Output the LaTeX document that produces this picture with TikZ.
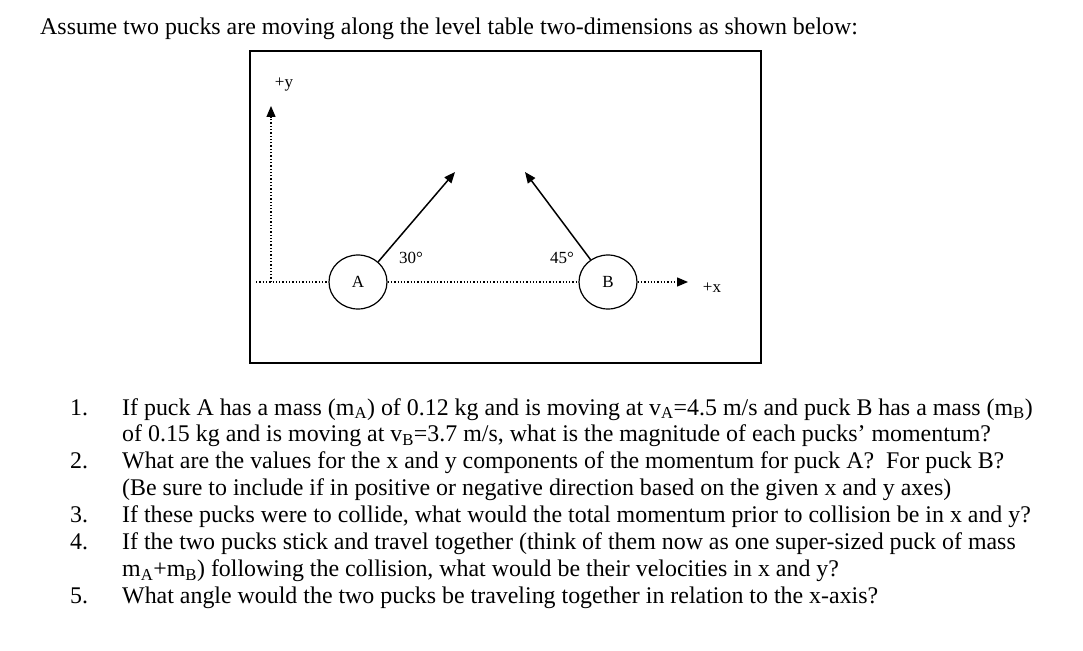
\documentclass[tikz,border=0pt]{standalone}
\usepackage{fontspec}
\setmainfont{Liberation Serif}
\usetikzlibrary{arrows.meta,shapes.geometric}
\newcommand{\sbs}[1]{\textsubscript{#1}}
\begin{document}
\begin{tikzpicture}[x=1pt,y=-1pt,
  txt/.style={anchor=base west,inner sep=0pt,font=\fontsize{23.9}{26}\selectfont},
  lbl/.style={inner sep=0pt,font=\fontsize{17}{19}\selectfont},
  puck/.style={draw,ellipse,line width=1.2pt,minimum width=58pt,minimum height=54pt,inner sep=0pt,font=\fontsize{17}{19}\selectfont},
  dots/.style={dotted,line width=1.3pt},
  vec/.style={-{Triangle[length=11pt,width=9pt]},line width=1.5pt}]
\useasboundingbox (0,0) rectangle (1083,650);
\node[txt] (title) at (40,35) {Assume two pucks are moving along the level table two-dimensions as shown below:};
\draw[line width=1.5pt] (250,51) rectangle (761,363);
\coordinate (o) at (271,282);
\coordinate (xl) at (256,282);
\coordinate (yt) at (271,106);
\coordinate (xt) at (688,282);
\node[puck] (A) at (358,282) {A};
\node[puck] (B) at (608,282) {B};
\draw[dots] (xl) -- (A.west);
\draw[dots] (A.east) -- (B.west);
\draw[dots,-{Triangle[length=11pt,width=9pt]}] (B.east) -- (xt);
\draw[dots,-{Triangle[length=11pt,width=9pt]}] (o) -- (yt);
\node[lbl] (px) at (712,288) {+x};
\node[lbl] (py) at (284,85) {+y};
\coordinate (ae) at (455,172);
\coordinate (be) at (525,172);
\draw[vec] (A.45) -- (ae);
\draw[vec] (B.128) -- (be);
\node[lbl] (a30) at (411,258) {30°};
\node[lbl] (a45) at (562,258) {45°};
\foreach \n/\yy in {1/0,2/2,3/4,4/5,5/7}
  \node[txt] (n\n) at (70,415+26.9*\yy) {\n.};
\node[txt] (l1) at (122,415) {If puck A has a mass (m\sbs{A}) of 0.12 kg and is moving at v\sbs{A}=4.5 m/s and puck B has a mass (m\sbs{B})};
\node[txt] (l1b) at (122,415+26.9) {of 0.15 kg and is moving at v\sbs{B}=3.7 m/s, what is the magnitude of each pucks’ momentum?};
\node[txt] (l2) at (122,415+2*26.9) {What are the values for the x and y components of the momentum for puck A?\ \ For puck B?};
\node[txt] (l2b) at (122,415+3*26.9) {(Be sure to include if in positive or negative direction based on the given x and y axes)};
\node[txt] (l3) at (122,415+4*26.9) {If these pucks were to collide, what would the total momentum prior to collision be in x and y?};
\node[txt] (l4) at (122,415+5*26.9) {If the two pucks stick and travel together (think of them now as one super-sized puck of mass};
\node[txt] (l4b) at (122,415+6*26.9) {m\sbs{A}+m\sbs{B}) following the collision, what would be their velocities in x and y?};
\node[txt] (l5) at (122,415+7*26.9) {What angle would the two pucks be traveling together in relation to the x-axis?};
\end{tikzpicture}
\end{document}
